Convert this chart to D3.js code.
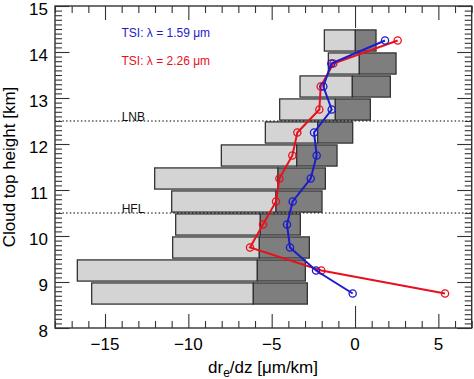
<!DOCTYPE html>
<html><head><meta charset="utf-8">
<script src="https://cdn.jsdelivr.net/npm/d3@7"></script>
<style>body{margin:0;background:#fff}svg{display:block}text{font-family:"Liberation Sans",Arial,Helvetica,sans-serif}</style>
</head><body>
<script>
// bins (bottom of each 0.5 km layer)
const heights = [8.5, 9.0, 9.5, 10.0, 10.5, 11.0, 11.5, 12.0, 12.5, 13.0, 13.5, 14.0];
const barLeft = [-15.8, -16.66, -10.94, -10.76, -11.0, -12.02, -8.02, -5.38, -4.52, -3.3, -1.6, -1.84];
const barMid  = [-6.1, -5.86, -5.74, -5.68, -4.74, -4.62, -3.5, -2.24, -1.18, -0.16, 0.26, 0.02];
const barRight= [-2.86, -2.98, -2.74, -3.28, -1.98, -1.78, -1.08, -0.14, 0.92, 2.12, 2.46, 1.26];
const tsi159 = [-0.14, -2.34, -3.9, -4.08, -3.74, -2.66, -2.3, -2.46, -1.4, -1.9, -1.42, 1.8];
const tsi226 = [5.4, -2.02, -6.3, -5.52, -4.74, -4.54, -3.76, -3.46, -2.14, -2.06, -1.3, 2.56];
const refLines = [{z: 12.5, label: "LNB"}, {z: 10.5, label: "HFL"}];
const xTicks = [-15, -10, -5, 0, 5];
const yTicks = [8, 9, 10, 11, 12, 13, 14, 15];

const W = 474, H = 379;
const x = d3.scaleLinear().domain([-18, 7]).range([55, 471.7]);
const y = d3.scaleLinear().domain([8, 15]).range([328, 6]);
const svg = d3.select("body").append("svg").attr("width", W).attr("height", H);

const binH = 0.5, gapLo = 0.02, gapHi = 0.02;
const g = svg.append("g");
heights.forEach((z, i) => {
  const yt = y(z + binH - gapHi), yb = y(z + gapLo);
  g.append("rect").attr("x", x(barLeft[i])).attr("y", yt)
    .attr("width", x(barMid[i]) - x(barLeft[i])).attr("height", yb - yt)
    .attr("fill", "#d4d4d4").attr("stroke", "#333").attr("stroke-width", 1.3);
  g.append("rect").attr("x", x(barMid[i])).attr("y", yt)
    .attr("width", x(barRight[i]) - x(barMid[i])).attr("height", yb - yt)
    .attr("fill", "#7e7e7e").attr("stroke", "#333").attr("stroke-width", 1.3);
});

// reference lines
refLines.forEach(r => {
  svg.append("line").attr("x1", x(-18)).attr("x2", x(7)).attr("y1", y(r.z)).attr("y2", y(r.z))
    .attr("stroke", "#000").attr("stroke-width", 1).attr("stroke-dasharray", "1.5,2.2");
  svg.append("text").attr("x", x(-14)).attr("y", y(r.z)).attr("font-size", 12).attr("fill", "#111").text(r.label);
});

const series = [{v: tsi226, c: "#e8101c"}, {v: tsi159, c: "#1c1ccc"}];
series.forEach(s => {
  const pts = heights.map((z, i) => [x(s.v[i]), y(z + binH / 2)]);
  svg.append("path").attr("d", d3.line()(pts)).attr("fill", "none").attr("stroke", s.c).attr("stroke-width", 2);
  svg.selectAll(null).data(pts).enter().append("circle")
    .attr("cx", d => d[0]).attr("cy", d => d[1]).attr("r", 3.6)
    .attr("fill", "none").attr("stroke", s.c).attr("stroke-width", 1.3);
});

// legend
svg.append("text").attr("x", 121.5).attr("y", 37).attr("font-size", 12).attr("fill", "#1c1ccc").text("TSI: λ = 1.59 μm");
svg.append("text").attr("x", 121.5).attr("y", 64.5).attr("font-size", 12).attr("fill", "#e8101c").text("TSI: λ = 2.26 μm");

// axes
const axCol = "#333";
const minorX = d3.range(-18, 8, 1).filter(v => !xTicks.includes(v));
const minorY = d3.range(80, 151, 1).map(v => v / 10).filter(v => !yTicks.includes(v));
svg.append("g").attr("transform", `translate(0,${y(8)})`).call(d3.axisBottom(x).tickValues(minorX).tickSize(-7).tickFormat(""));
svg.append("g").attr("transform", `translate(0,${y(15)})`).call(d3.axisTop(x).tickValues(minorX).tickSize(-7).tickFormat(""));
svg.append("g").attr("transform", `translate(0,${y(8)})`).call(d3.axisBottom(x).tickValues(xTicks).tickSize(0).tickPadding(0).tickFormat(""))
  .call(a => a.selectAll(".tick").append("line").attr("y2", d => d === 0 ? -22 : -14));
svg.append("g").attr("transform", `translate(0,${y(15)})`).call(d3.axisTop(x).tickValues(xTicks).tickSize(0).tickFormat(""))
  .call(a => a.selectAll(".tick").append("line").attr("y2", d => d === 0 ? 22 : 14));
svg.append("g").attr("transform", `translate(${x(-18)},0)`).call(d3.axisLeft(y).tickValues(minorY).tickSize(-7).tickFormat(""));
svg.append("g").attr("transform", `translate(${x(7)},0)`).call(d3.axisRight(y).tickValues(minorY).tickSize(-7).tickFormat(""));
svg.append("g").attr("transform", `translate(${x(-18)},0)`).call(d3.axisLeft(y).tickValues(yTicks).tickSize(-14.5).tickFormat(""));
svg.append("g").attr("transform", `translate(${x(7)},0)`).call(d3.axisRight(y).tickValues(yTicks).tickSize(-14.5).tickFormat(""));
svg.selectAll(".domain").remove();
svg.selectAll(".tick line").attr("stroke", axCol).attr("stroke-width", 1.1);

// frame
svg.append("rect").attr("x", x(-18)).attr("y", y(15)).attr("width", x(7) - x(-18)).attr("height", y(8) - y(15))
  .attr("fill", "none").attr("stroke", axCol).attr("stroke-width", 1.4);

// tick labels
xTicks.forEach(v => svg.append("text").attr("x", x(v)).attr("y", 350).attr("text-anchor", "middle")
  .attr("font-size", 17).attr("fill", "#000").text(v < 0 ? "\u2212" + Math.abs(v) : String(v)));
yTicks.forEach(v => svg.append("text").attr("x", 48).attr("y", y(v) + 9).attr("text-anchor", "end")
  .attr("font-size", 17).attr("fill", "#000").text(String(v)));

// titles
const xt = svg.append("text").attr("x", 263).attr("y", 373).attr("text-anchor", "middle").attr("font-size", 17).attr("fill", "#000");
xt.append("tspan").text("dr");
xt.append("tspan").attr("font-size", 12).attr("dy", 4).text("e");
xt.append("tspan").attr("dy", -4).text("/dz [μm/km]");
svg.append("text").attr("transform", "translate(15,167) rotate(-90)").attr("text-anchor", "middle")
  .attr("font-size", 17).attr("fill", "#000").text("Cloud top height [km]");
</script>
</body></html>
